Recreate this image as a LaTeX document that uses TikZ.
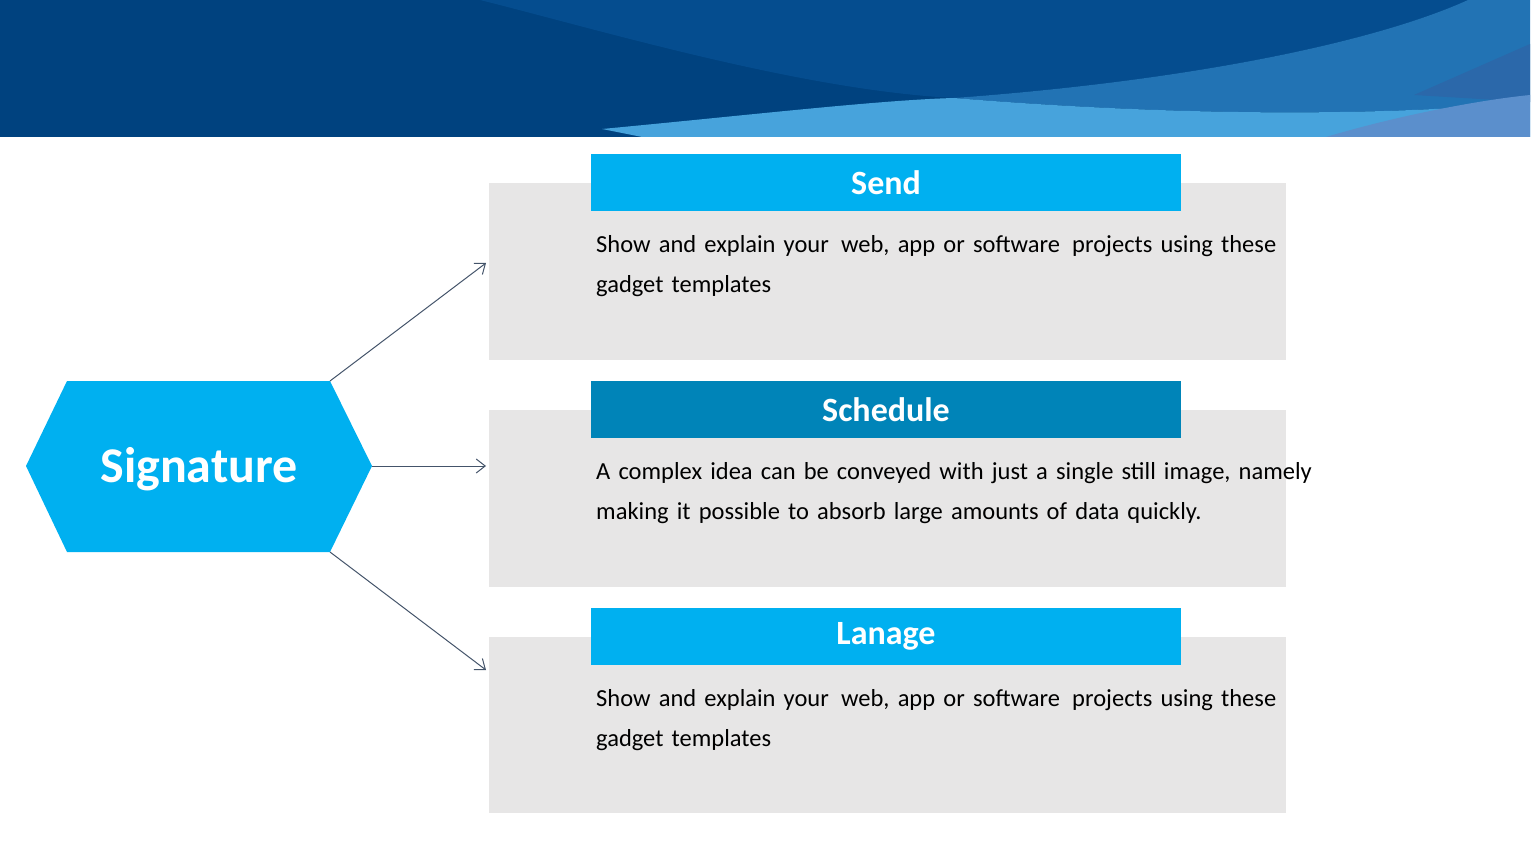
\documentclass[tikz,border=0pt]{standalone}
\usepackage{fontspec}
\setmainfont{Carlito}
\usetikzlibrary{arrows.meta}
\definecolor{cyanb}{HTML}{00B0F0}
\definecolor{darkc}{HTML}{0084B8}
\definecolor{grayb}{HTML}{E7E6E6}
\definecolor{navy}{HTML}{00427F}
\definecolor{navyb}{HTML}{054D8F}
\definecolor{midb}{HTML}{2273B4}
\definecolor{midd}{HTML}{2B68AA}
\definecolor{lightb}{HTML}{47A3DC}
\definecolor{cornb}{HTML}{5B8FCC}
\definecolor{arr}{HTML}{44546A}
\tikzset{
 panel/.style={fill=grayb,draw=none},
 bar/.style={draw=none,minimum width=590pt,minimum height=57pt,inner sep=0pt,text=white,font=\bfseries\fontsize{34}{36}\selectfont},
 body/.style={anchor=north west,align=left,text width=740pt,inner sep=0pt,font=\fontsize{24.5}{40}\selectfont},
 conn/.style={draw=arr,line width=1pt,-{Straight Barb[length=9pt,width=14pt]}}
}
\begin{document}
\begin{tikzpicture}[x=1pt,y=-1pt]
\useasboundingbox (0,0) rectangle (1536,864);
% header
\fill[navy] (0,0) rectangle (1530,137);
\fill[navyb] (480,0) .. controls (600,30) and (800,90) .. (954,98) .. controls (1200,80) and (1380,40) .. (1468,0) -- cycle;
\fill[midb] (954,98) .. controls (1200,80) and (1380,40) .. (1468,0) -- (1530,0) -- (1530,102) .. controls (1400,115) and (1200,118) .. cycle;
\fill[midd] (1414,95) -- (1530,44) -- (1530,102) -- cycle;
\fill[lightb] (602,129) .. controls (750,115) and (880,100) .. (954,98) .. controls (1200,118) and (1400,115) .. (1530,102) -- (1530,137) -- (642,137) -- cycle;
\fill[cornb] (1326,137) .. controls (1400,115) and (1480,100) .. (1530,95) -- (1530,137) -- cycle;
% panels
\fill[panel] (489,183) rectangle (1286,360);
\fill[panel] (489,410) rectangle (1286,587);
\fill[panel] (489,637) rectangle (1286,813);
\node[bar,fill=cyanb] (t1) at (886,182.5) {Send};
\node[bar,fill=darkc] (t2) at (886,409.5) {Schedule};
\node[bar,fill=cyanb] (t3) at (886,636.5) {Lanage};
\node[body] (b1) at (596,235) {Show and explain your\, web, app or software\, projects using these\\gadget templates};
\node[body] (b2) at (596,462) {A complex idea can be conveyed with just a single still image, namely\\making it possible to absorb large amounts of data quickly.};
\node[body] (b3) at (596,689) {Show and explain your\, web, app or software\, projects using these\\gadget templates};
% hexagon
\fill[cyanb] (26,466) -- (67,381) -- (330,381) -- (372,466) -- (330,552) -- (67,552) -- cycle;
\node[text=white,font=\bfseries\fontsize{50}{52}\selectfont] (sig) at (199,469) {Signature};
\coordinate (h1) at (330,381); \coordinate (h2) at (372,466); \coordinate (h3) at (330,552);
\coordinate (e1) at (486,263); \coordinate (e2) at (486,466); \coordinate (e3) at (486,670);
\draw[conn] (h1) -- (e1);
\draw[conn] (h2) -- (e2);
\draw[conn] (h3) -- (e3);
\end{tikzpicture}
\end{document}
